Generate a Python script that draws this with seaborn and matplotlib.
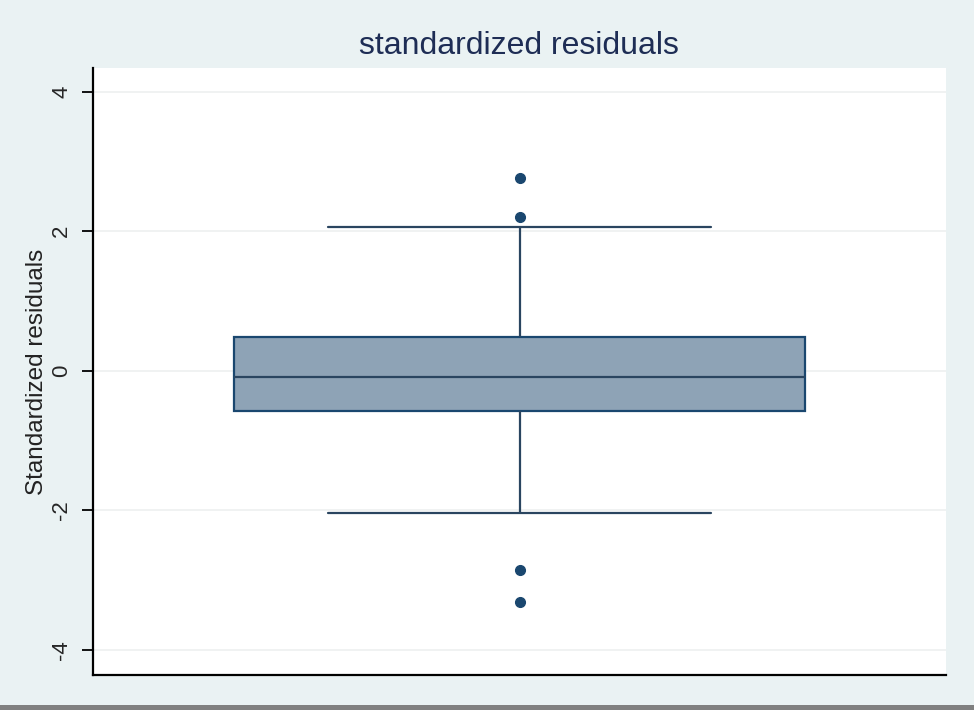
import numpy as np
import pandas as pd
import matplotlib
matplotlib.use("Agg")
import matplotlib.pyplot as plt
import seaborn as sns
from matplotlib.patches import Rectangle

# 표준화 잔차 (그림에서 읽은 값: 사분위수, 수염 끝, 이상치)
residuals = [-3.31, -2.85, -2.04, -1.20, -0.57, -0.42, -0.30, -0.18, -0.09,
             0.05, 0.18, 0.33, 0.49, 0.95, 2.06, 2.21, 2.77]
yticks = [-4, -2, 0, 2, 4]
ytick_labels = ["-4", "-2", "0", "2", "4"]

df = pd.DataFrame({"resid": residuals})

sns.set_style("white")
plt.rcParams['font.family'] = ['Liberation Sans', 'DejaVu Sans']

navy = "#1a476f"
fig = plt.figure(figsize=(9.74, 7.10), dpi=100)
fig.patch.set_facecolor("#eaf2f3")
ax = fig.add_axes([93 / 974, 35 / 710, 853 / 974, 607 / 710])
ax.set_facecolor("white")

sns.boxplot(y="resid", data=df, ax=ax, width=0.67, color="#8ea3b6",
            linecolor=navy, linewidth=1.6, saturation=1,
            flierprops=dict(marker="o", markersize=7, markerfacecolor=navy,
                            markeredgecolor=navy),
            whiskerprops=dict(color="#2a4560"), capprops=dict(color="#2a4560"),
            medianprops=dict(color="#2a4560", linewidth=1.6))

# 수염 캡 길이 맞추기
for ln in ax.lines:
    xd = np.asarray(ln.get_xdata(), dtype=float)
    yd = np.asarray(ln.get_ydata(), dtype=float)
    if len(xd) == 2 and yd[0] == yd[1] and abs(abs(xd[1] - xd[0]) - 0.335) < 0.01:
        ln.set_xdata([-0.224, 0.224])

ax.set_xlim(-0.5, 0.5)
ax.set_ylim(-4.36, 4.34)
ax.set_yticks(yticks)
ax.set_yticklabels(ytick_labels, rotation=90, va="center", fontsize=16)
ax.set_xticks([])
ax.set_xlabel("")
ax.set_ylabel("Standardized residuals", fontsize=17.5, color="#222222", labelpad=2)
ax.tick_params(axis="y", direction="out", length=8, width=1.3, color="black", pad=7, left=True)
ax.grid(axis="y", color="#eef0f0", linewidth=1.2)
ax.set_axisbelow(True)
for s in ["top", "right"]:
    ax.spines[s].set_visible(False)
for s in ["left", "bottom"]:
    ax.spines[s].set_color("black")
    ax.spines[s].set_linewidth(1.6)

fig.text(519 / 974, 1 - 46 / 710, "standardized residuals", ha="center", va="center",
         fontsize=23, color="#1e2d55")

# 아래 회색 테두리
fig.patches.append(Rectangle((0, 0), 1, 5 / 710, transform=fig.transFigure,
                             facecolor="#808080", edgecolor="none", zorder=10))

fig.savefig("out.png", dpi=100, facecolor=fig.get_facecolor())
